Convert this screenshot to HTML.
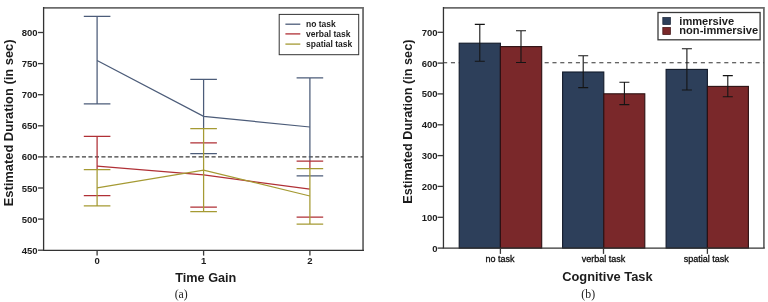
<!DOCTYPE html>
<html lang="en">
<head>
<meta charset="utf-8">
<title>Estimated Duration charts</title>
<style>
html,body{margin:0;padding:0;background:#fff;}
body{width:768px;height:302px;overflow:hidden;}
svg{display:block;filter:blur(0.3px);}
text{font-family:"Liberation Sans",Arial,Helvetica,sans-serif;fill:#1c1c1c;}
.b{font-weight:bold;}
.tk{font-weight:bold;font-size:9.5px;}
.ttl{font-weight:bold;font-size:12.6px;}
.cap{font-family:"Liberation Serif","Times New Roman",serif;font-size:11.8px;fill:#222;}
.lg{font-weight:bold;font-size:8.5px;}
.lg2{font-weight:bold;font-size:11.1px;}
.cat{font-size:9px;fill:#0d0d0d;stroke:#0d0d0d;stroke-width:0.3px;}
</style>
</head>
<body>
<svg width="768" height="302" viewBox="0 0 768 302">
<rect x="0" y="0" width="768" height="302" fill="#ffffff"/>

<!-- left chart (a) -->
<g id="chart-a">
<path d="M43.6 7.9H363.05V250.4" fill="none" stroke="#6c6c6c" stroke-width="1.8"/>
<path d="M43.6 7.0V250.4H363.95" fill="none" stroke="#333" stroke-width="1.3"/>
<line x1="38.0" y1="250.2" x2="43.6" y2="250.2" stroke="#3a3a3a" stroke-width="1.3"/>
<text class="tk" x="37.6" y="253.7" text-anchor="end">450</text>
<line x1="38.0" y1="219.1" x2="43.6" y2="219.1" stroke="#3a3a3a" stroke-width="1.3"/>
<text class="tk" x="37.6" y="222.6" text-anchor="end">500</text>
<line x1="38.0" y1="188.0" x2="43.6" y2="188.0" stroke="#3a3a3a" stroke-width="1.3"/>
<text class="tk" x="37.6" y="191.5" text-anchor="end">550</text>
<line x1="38.0" y1="156.9" x2="43.6" y2="156.9" stroke="#3a3a3a" stroke-width="1.3"/>
<text class="tk" x="37.6" y="160.4" text-anchor="end">600</text>
<line x1="38.0" y1="125.8" x2="43.6" y2="125.8" stroke="#3a3a3a" stroke-width="1.3"/>
<text class="tk" x="37.6" y="129.3" text-anchor="end">650</text>
<line x1="38.0" y1="94.7" x2="43.6" y2="94.7" stroke="#3a3a3a" stroke-width="1.3"/>
<text class="tk" x="37.6" y="98.2" text-anchor="end">700</text>
<line x1="38.0" y1="63.6" x2="43.6" y2="63.6" stroke="#3a3a3a" stroke-width="1.3"/>
<text class="tk" x="37.6" y="67.1" text-anchor="end">750</text>
<line x1="38.0" y1="32.5" x2="43.6" y2="32.5" stroke="#3a3a3a" stroke-width="1.3"/>
<text class="tk" x="37.6" y="36.0" text-anchor="end">800</text>
<line x1="97.1" y1="250.4" x2="97.1" y2="255.6" stroke="#3a3a3a" stroke-width="1.3"/>
<text class="tk" x="97.1" y="263.5" text-anchor="middle">0</text>
<line x1="203.6" y1="250.4" x2="203.6" y2="255.6" stroke="#3a3a3a" stroke-width="1.3"/>
<text class="tk" x="203.6" y="263.5" text-anchor="middle">1</text>
<line x1="309.9" y1="250.4" x2="309.9" y2="255.6" stroke="#3a3a3a" stroke-width="1.3"/>
<text class="tk" x="309.9" y="263.5" text-anchor="middle">2</text>
<line x1="43.06" y1="156.8" x2="363.05" y2="156.8" stroke="#3c3c3c" stroke-width="1.2" stroke-dasharray="4.1 2.38"/>
<g stroke="#4c5c79" stroke-width="1.25" fill="none" stroke-linecap="butt">
<path d="M83.8 16.4H110.4M83.8 103.8H110.4M97.1 16.4V103.8"/>
<path d="M190.3 79.4H216.9M190.3 153.5H216.9M203.6 79.4V128.5"/>
<path d="M296.6 77.9H323.2M296.6 175.8H323.2M309.9 77.9V161.2"/>
<polyline points="97.1,60.5 203.6,116.4 309.9,127.0"/>
</g>
<g stroke="#b03036" stroke-width="1.25" fill="none" stroke-linecap="butt">
<path d="M83.8 136.4H110.4M83.8 195.5H110.4M97.1 136.4V169.6"/>
<path d="M190.3 142.9H216.9M190.3 207.0H216.9"/>
<path d="M296.6 161.2H323.2M296.6 217.0H323.2M309.9 161.2V168.5"/>
<polyline points="97.1,166.1 203.6,174.9 309.9,189.2"/>
</g>
<g stroke="#a59a33" stroke-width="1.25" fill="none" stroke-linecap="butt">
<path d="M83.8 169.6H110.4M83.8 205.9H110.4M97.1 169.6V205.9"/>
<path d="M190.3 128.5H216.9M190.3 211.5H216.9M203.6 128.5V211.5"/>
<path d="M296.6 168.5H323.2M296.6 224.0H323.2M309.9 168.5V224.0"/>
<polyline points="97.1,187.8 203.6,170.1 309.9,196.0"/>
</g>
<rect x="279.2" y="14.4" width="79.5" height="40.3" fill="#fff" stroke="#333" stroke-width="1"/>
<line x1="285.4" y1="24.2" x2="300.3" y2="24.2" stroke="#4c5c79" stroke-width="1.3"/>
<text class="lg" x="306" y="27.1">no task</text>
<line x1="285.4" y1="33.9" x2="300.3" y2="33.9" stroke="#b03036" stroke-width="1.3"/>
<text class="lg" x="306" y="36.8">verbal task</text>
<line x1="285.4" y1="44.1" x2="300.3" y2="44.1" stroke="#a59a33" stroke-width="1.3"/>
<text class="lg" x="306" y="47.0">spatial task</text>
<text class="ttl" style="font-size:12.9px" transform="translate(12.9 122.9) rotate(-90)" text-anchor="middle">Estimated Duration (in sec)</text>
<text class="ttl" style="font-size:12.7px" x="205.8" y="282.3" text-anchor="middle">Time Gain</text>
<text class="cap" x="181.2" y="298.0" text-anchor="middle">(a)</text>
</g>
<!-- right chart (b) -->
<g id="chart-b">
<path d="M443.45 7.9H763.9V248.1" fill="none" stroke="#6c6c6c" stroke-width="1.8"/>
<path d="M443.45 7.0V248.1" fill="none" stroke="#333" stroke-width="1.3"/>
<line x1="443.1" y1="62.75" x2="763.9" y2="62.75" stroke="#333" stroke-width="1.2" stroke-dasharray="4.1 3.71"/>
<line x1="437.6" y1="248.1" x2="443.45" y2="248.1" stroke="#3a3a3a" stroke-width="1.3"/>
<text class="tk" x="437.6" y="251.6" text-anchor="end">0</text>
<line x1="437.6" y1="217.3" x2="443.45" y2="217.3" stroke="#3a3a3a" stroke-width="1.3"/>
<text class="tk" x="437.6" y="220.8" text-anchor="end">100</text>
<line x1="437.6" y1="186.4" x2="443.45" y2="186.4" stroke="#3a3a3a" stroke-width="1.3"/>
<text class="tk" x="437.6" y="189.9" text-anchor="end">200</text>
<line x1="437.6" y1="155.6" x2="443.45" y2="155.6" stroke="#3a3a3a" stroke-width="1.3"/>
<text class="tk" x="437.6" y="159.1" text-anchor="end">300</text>
<line x1="437.6" y1="124.8" x2="443.45" y2="124.8" stroke="#3a3a3a" stroke-width="1.3"/>
<text class="tk" x="437.6" y="128.3" text-anchor="end">400</text>
<line x1="437.6" y1="93.9" x2="443.45" y2="93.9" stroke="#3a3a3a" stroke-width="1.3"/>
<text class="tk" x="437.6" y="97.4" text-anchor="end">500</text>
<line x1="437.6" y1="63.1" x2="443.45" y2="63.1" stroke="#3a3a3a" stroke-width="1.3"/>
<text class="tk" x="437.6" y="66.6" text-anchor="end">600</text>
<line x1="437.6" y1="32.3" x2="443.45" y2="32.3" stroke="#3a3a3a" stroke-width="1.3"/>
<text class="tk" x="437.6" y="35.8" text-anchor="end">700</text>
<rect x="459.2" y="43.2" width="41.2" height="204.9" fill="#2d3f5a" stroke="#121a2a" stroke-width="1.1"/>
<rect x="500.4" y="46.6" width="41.3" height="201.5" fill="#7a282a" stroke="#2c1012" stroke-width="1.1"/>
<rect x="562.6" y="72.0" width="41.2" height="176.1" fill="#2d3f5a" stroke="#121a2a" stroke-width="1.1"/>
<rect x="603.8" y="93.8" width="41.0" height="154.3" fill="#7a282a" stroke="#2c1012" stroke-width="1.1"/>
<rect x="666.1" y="69.4" width="41.3" height="178.7" fill="#2d3f5a" stroke="#121a2a" stroke-width="1.1"/>
<rect x="707.4" y="86.4" width="41.0" height="161.7" fill="#7a282a" stroke="#2c1012" stroke-width="1.1"/>
<path d="M474.8 24.4H484.8M479.8 24.4V61.2M474.8 61.2H484.8" stroke="#141414" stroke-width="1.1" fill="none"/>
<path d="M516.0 30.7H526.0M521.0 30.7V62.5M516.0 62.5H526.0" stroke="#141414" stroke-width="1.1" fill="none"/>
<path d="M578.2 55.8H588.2M583.2 55.8V87.6M578.2 87.6H588.2" stroke="#141414" stroke-width="1.1" fill="none"/>
<path d="M619.4 82.2H629.4M624.4 82.2V104.6M619.4 104.6H629.4" stroke="#141414" stroke-width="1.1" fill="none"/>
<path d="M681.9 48.7H691.9M686.9 48.7V90.0M681.9 90.0H691.9" stroke="#141414" stroke-width="1.1" fill="none"/>
<path d="M722.8 75.6H732.8M727.8 75.6V96.8M722.8 96.8H732.8" stroke="#141414" stroke-width="1.1" fill="none"/>
<line x1="442.8" y1="248.1" x2="764.8" y2="248.1" stroke="#333" stroke-width="1.3"/>
<line x1="500.4" y1="248.1" x2="500.4" y2="253.9" stroke="#3a3a3a" stroke-width="1.3"/>
<text class="cat" x="500.0" y="262.1" text-anchor="middle">no task</text>
<line x1="603.5" y1="248.1" x2="603.5" y2="253.9" stroke="#3a3a3a" stroke-width="1.3"/>
<text class="cat" x="603.5" y="262.1" text-anchor="middle">verbal task</text>
<line x1="707.4" y1="248.1" x2="707.4" y2="253.9" stroke="#3a3a3a" stroke-width="1.3"/>
<text class="cat" x="706.3" y="262.1" text-anchor="middle">spatial task</text>
<rect x="658" y="12.5" width="102.1" height="27.3" fill="#fff" stroke="#3a3a3a" stroke-width="1.3"/>
<rect x="662.8" y="17.4" width="7.7" height="7.2" fill="#2d3f5a" stroke="#1a2436" stroke-width="0.7"/>
<rect x="662.8" y="27.4" width="7.7" height="7.2" fill="#7a282a" stroke="#3d1214" stroke-width="0.7"/>
<text class="lg2" x="679.3" y="24.8">immersive</text>
<text class="lg2" x="679.3" y="34.4">non-immersive</text>
<text class="ttl" style="font-size:12.7px" transform="translate(412.4 121.7) rotate(-90)" text-anchor="middle">Estimated Duration (in sec)</text>
<text class="ttl" style="font-size:12.85px" x="607.4" y="281.2" text-anchor="middle">Cognitive Task</text>
<text class="cap" x="588.2" y="297.9" text-anchor="middle">(b)</text>
</g>
</svg>
</body>
</html>
